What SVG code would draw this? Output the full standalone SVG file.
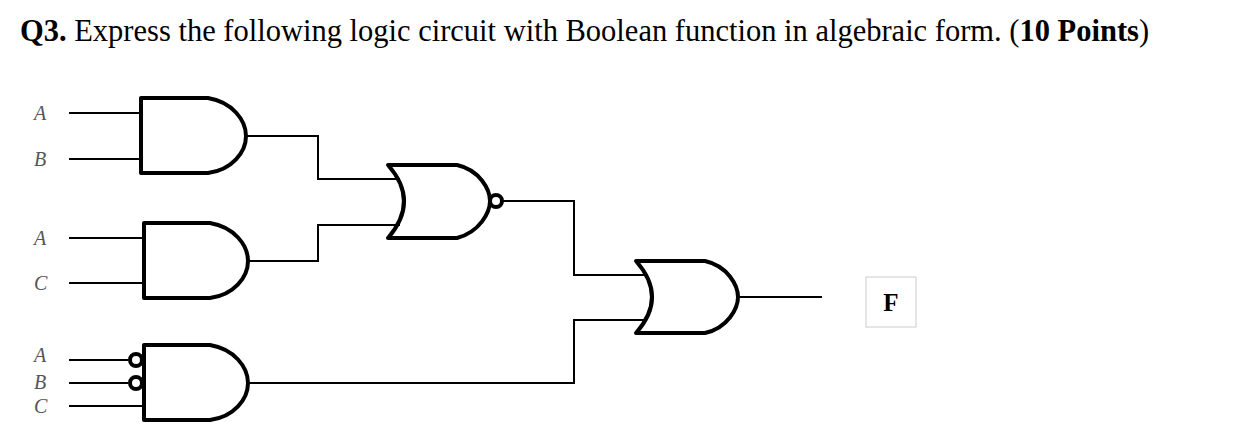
<svg xmlns="http://www.w3.org/2000/svg" width="1251" height="446" viewBox="0 0 1251 446">
<style>
.g{fill:none;stroke:#000;stroke-width:4;stroke-linejoin:round}
.w{fill:none;stroke:#000;stroke-width:2}
.l{font-family:"Liberation Serif",serif;font-style:italic;font-size:20px;fill:#555}
.t{font-family:"Liberation Serif",serif;font-size:30.5px;fill:#000}
</style>
<rect width="1251" height="446" fill="#fff"/>
<text class="t" x="20" y="41"><tspan font-weight="bold">Q3.</tspan> Express the following logic circuit with Boolean function in algebraic form. (<tspan font-weight="bold">10 Points</tspan>)</text>
<g id="labels">
<text class="l" x="34" y="120">A</text><text class="l" x="34" y="166">B</text>
<text class="l" x="34" y="245">A</text><text class="l" x="34" y="290">C</text>
<text class="l" x="34" y="362">A</text><text class="l" x="34" y="389">B</text><text class="l" x="34" y="413">C</text>
</g>
<g id="connectors">
<path class="w" d="M69 113H141M69 159H141M69 238H144M69 283H144M69 360H128M69 383H128M69 406H144"/>
<path class="w" d="M246 136H318V179H400M248 261H318V225H400M248 383H574V320H645M502 201H574V275H645M737 297H822"/>
</g>
<g id="and1"><path class="g" d="M141 98H208C232 102 246 120 246 136C246 152 232 170 208 173H141Z"/></g>
<g id="and2"><path class="g" d="M144 223H210C234 227 248 245 248 261C248 277 234 295 210 298H144Z"/></g>
<g id="and3"><path class="g" d="M144 345H210C234 349 248 367 248 383C248 399 234 417 210 420H144Z"/>
<circle class="g" cx="136" cy="360" r="6" stroke-width="3"/><circle class="g" cx="136" cy="383" r="6" stroke-width="3"/></g>
<g id="nor"><path class="g" d="M388 165H457C480 170 490 190 490 201C490 212 480 232 457 238H388Q420 201 388 165Z"/>
<circle class="g" cx="496" cy="201" r="6" stroke-width="3"/></g>
<g id="or"><path class="g" d="M636 261H705C728 266 738 286 738 297C738 308 728 328 705 333H636Q668 297 636 261Z"/></g>
<g id="F"><rect x="866" y="277" width="50" height="50" fill="#fff" stroke="#ccc" stroke-width="1"/>
<text x="891" y="311" text-anchor="middle" font-family="Liberation Serif,serif" font-weight="bold" font-size="25">F</text></g>
</svg>
